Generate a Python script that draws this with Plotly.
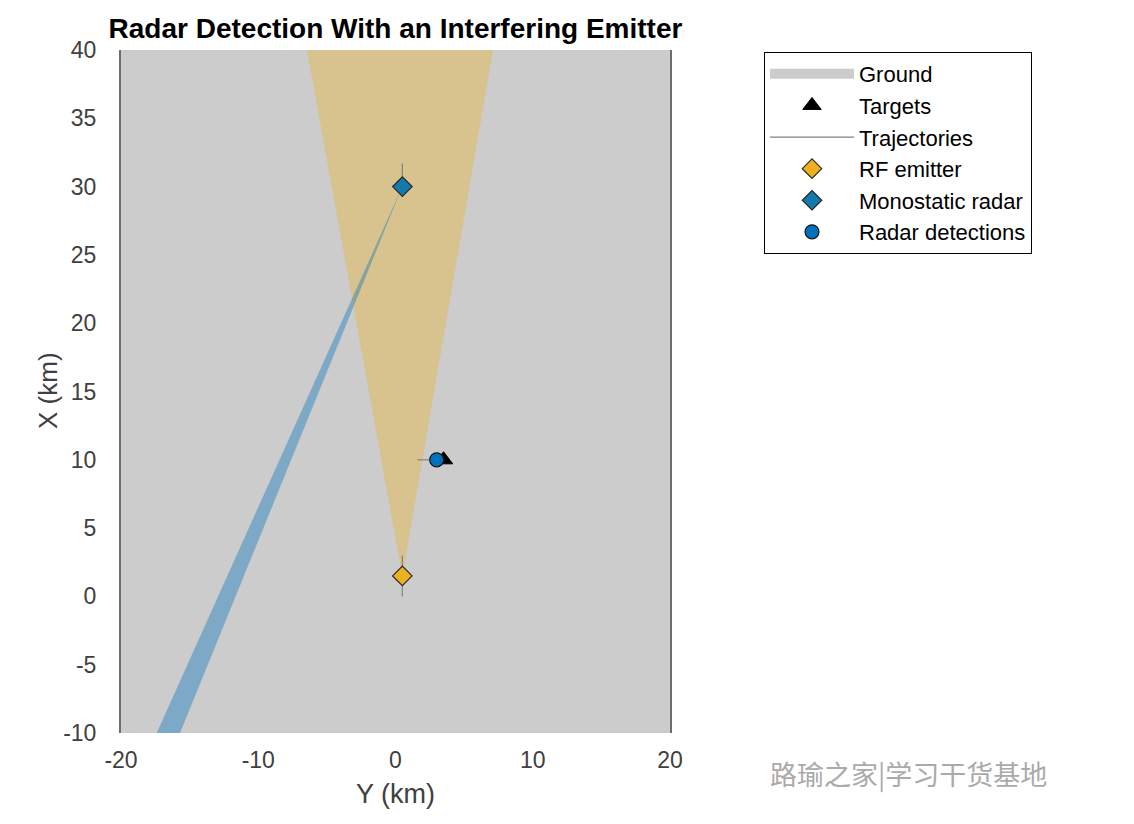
import plotly.graph_objects as go

# ---- data (km) ----
emitter_beam_y = [0.5, -6.45, 7.1]
emitter_beam_x = [1.5, 40.0, 40.0]
radar_beam_y = [0.5, -17.4, -15.7]
radar_beam_x = [30.0, -10.0, -10.0]

traj_emitter_y = [0.5, 0.5]
traj_emitter_x = [0.0, 3.0]
traj_radar_y = [0.5, 0.5]
traj_radar_x = [30.0, 31.7]
traj_target_y = [1.6, 3.3]
traj_target_x = [10.0, 10.0]

target_y = [3.5]
target_x = [10.0]
emitter_y = [0.5]
emitter_x = [1.5]
radar_y = [0.5]
radar_x = [30.0]
detect_y = [3.0]
detect_x = [10.0]

x_ticks = [-20, -10, 0, 10, 20]
y_ticks = [-10, -5, 0, 5, 10, 15, 20, 25, 30, 35, 40]
x_tick_text = [str(v) for v in x_ticks]
y_tick_text = [str(v) for v in y_ticks]

FONT = "Liberation Sans, Arial, sans-serif"
TICK_COLOR = "#404040"

fig = go.Figure()

# legend-only ground entry
fig.add_trace(go.Scatter(x=[None], y=[None], mode="lines", name="Ground",
                         line=dict(color="rgb(204,204,204)", width=20)))

# beams
fig.add_trace(go.Scatter(x=emitter_beam_y, y=emitter_beam_x, fill="toself", mode="none",
                         fillcolor="rgba(237,177,32,0.37)", showlegend=False, hoverinfo="skip"))
fig.add_trace(go.Scatter(x=radar_beam_y, y=radar_beam_x, fill="toself", mode="none",
                         fillcolor="rgba(0,114,189,0.38)", showlegend=False, hoverinfo="skip"))

# targets
fig.add_trace(go.Scatter(x=target_y, y=target_x, mode="markers", name="Targets",
                         marker=dict(symbol="triangle-up", size=16, color="black",
                                     line=dict(color="black", width=1))))

# trajectories
fig.add_trace(go.Scatter(x=traj_emitter_y, y=traj_emitter_x, mode="lines", name="Trajectories",
                         line=dict(color="rgb(130,130,130)", width=1.2), legendgroup="traj"))
fig.add_trace(go.Scatter(x=traj_radar_y, y=traj_radar_x, mode="lines", showlegend=False,
                         line=dict(color="rgb(130,130,130)", width=1.2), legendgroup="traj"))
fig.add_trace(go.Scatter(x=traj_target_y, y=traj_target_x, mode="lines", showlegend=False,
                         line=dict(color="rgb(130,130,130)", width=1.2), legendgroup="traj"))

# emitter & radar
fig.add_trace(go.Scatter(x=emitter_y, y=emitter_x, mode="markers", name="RF emitter",
                         marker=dict(symbol="diamond", size=15, color="rgb(237,177,32)",
                                     line=dict(color="rgb(40,40,40)", width=1.2))))
fig.add_trace(go.Scatter(x=radar_y, y=radar_x, mode="markers", name="Monostatic radar",
                         marker=dict(symbol="diamond", size=15, color="rgb(20,122,172)",
                                     line=dict(color="rgb(40,40,40)", width=1.2))))
fig.add_trace(go.Scatter(x=detect_y, y=detect_x, mode="markers", name="Radar detections",
                         marker=dict(symbol="circle", size=14, color="rgb(0,114,189)",
                                     line=dict(color="rgb(20,20,20)", width=1.2))))

fig.update_layout(
    width=1134, height=824,
    margin=dict(l=121, r=464, t=50, b=91),
    paper_bgcolor="white",
    plot_bgcolor="rgb(204,204,204)",
    font=dict(family=FONT, size=23, color=TICK_COLOR),
    title=dict(text="<b>Radar Detection With an Interfering Emitter</b>",
               x=0.5, xref="paper", xanchor="center",
               y=1 - 28 / 824, yref="container", yanchor="middle",
               font=dict(family=FONT, size=28, color="black")),
    legend=dict(x=(764 - 121) / 549, xanchor="left", y=0.997, yanchor="top",
                bgcolor="white", bordercolor="black", borderwidth=1,
                font=dict(family=FONT, size=22, color="black"),
                itemwidth=84, tracegroupgap=0),
    showlegend=True,
    xaxis=dict(range=[-20, 20], tickvals=x_ticks, ticktext=x_tick_text,
               showgrid=False, zeroline=False,
               showline=False, ticks="", ticklabelstandoff=11,
               title=dict(text="Y (km)", standoff=12, font=dict(size=27, color=TICK_COLOR))),
    yaxis=dict(range=[-10, 40], tickvals=y_ticks, ticktext=y_tick_text,
               showgrid=False, zeroline=False,
               showline=True, mirror=True, linecolor="rgb(110,110,110)", linewidth=2,
               ticks="", ticklabelstandoff=18),
    annotations=[
        dict(text="X (km)", x=(48 - 121) / 549, y=(733 - 391) / 683,
             xref="paper", yref="paper", xanchor="center", yanchor="middle",
             textangle=-90, showarrow=False,
             font=dict(family=FONT, size=26, color=TICK_COLOR)),
        dict(text="路瑜之家|学习干货基地", x=(909 - 121) / 549, y=(733 - 773) / 683,
             xref="paper", yref="paper", xanchor="center", yanchor="middle",
             showarrow=False, font=dict(family="Noto Sans CJK SC", size=27,
                                        color="rgb(170,170,170)")),
    ],
)

fig.write_html("out.html")
